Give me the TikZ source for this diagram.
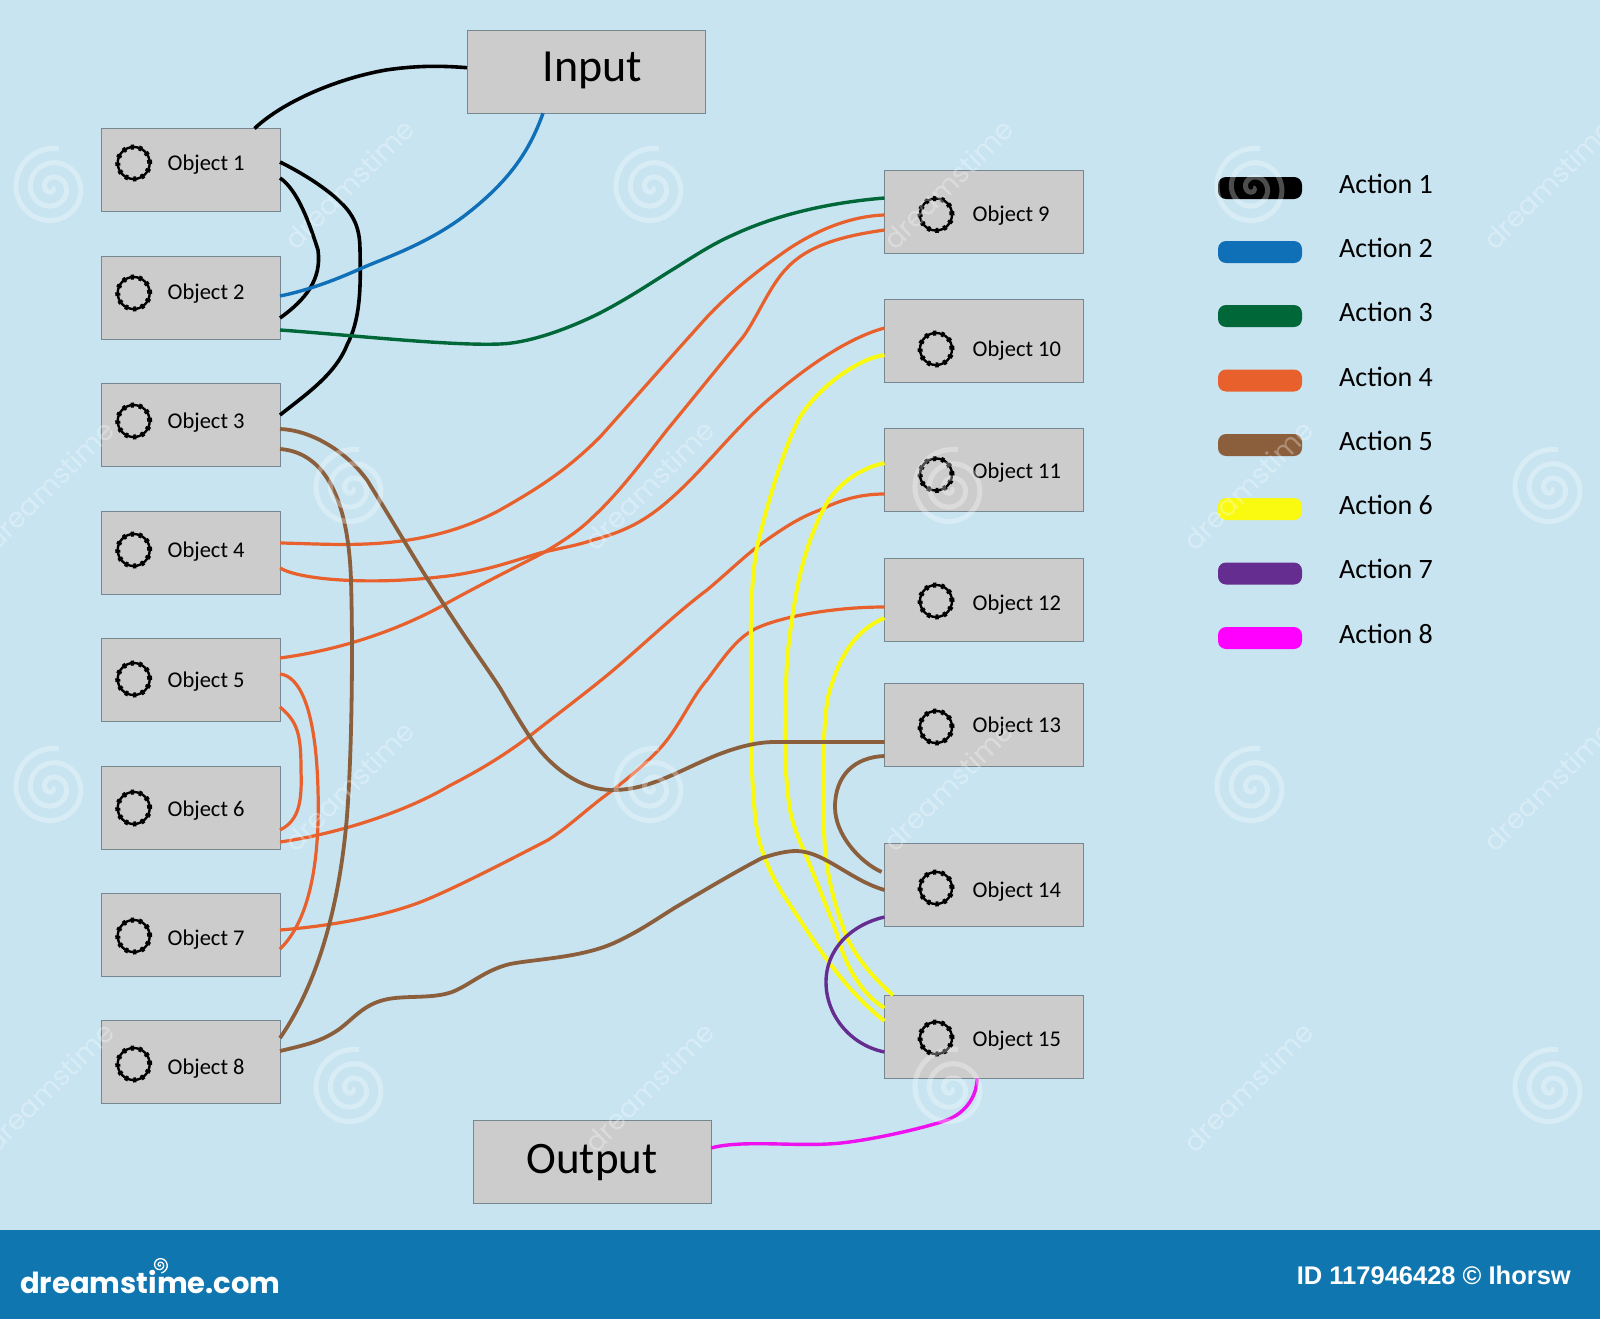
\documentclass[tikz,border=0pt]{standalone}
\usepackage{fontspec}
\setmainfont{Carlito}
\newfontfamily\footfont{Liberation Sans}
\newfontfamily\logofont{Poppins}
\usepackage{tikz}
\definecolor{skybg}{HTML}{C8E4F1}
\definecolor{footbg}{HTML}{0F76B0}
\definecolor{boxgrey}{HTML}{CCCCCC}
\definecolor{boxline}{HTML}{77878F}
\definecolor{actionblue}{HTML}{0F70B7}
\definecolor{actiongreen}{HTML}{006838}
\definecolor{actionorange}{HTML}{E8602C}
\definecolor{actionbrown}{HTML}{8B5E3C}
\definecolor{actionyellow}{HTML}{FAFA10}
\definecolor{actionpurple}{HTML}{662D91}
\definecolor{actionpink}{HTML}{EE10EE}
\definecolor{barpink}{HTML}{FF00FF}

\begin{document}
\begin{tikzpicture}[x=1pt,y=-1pt,
	objbox/.style={draw=boxline,fill=boxgrey,line width=1pt,inner sep=0pt,outer sep=0pt,minimum width=179pt,minimum height=83pt},
	rightbox/.style={objbox,minimum width=199pt},
	endbox/.style={objbox,minimum width=238pt},
	gearicon/.style={circle,draw=black,line width=2.4pt,inner sep=0pt,minimum size=32pt,postaction={draw,line width=5pt,dash pattern=on 3.2pt off 5.1pt}},
	objlabel/.style={anchor=west,inner sep=0pt,font=\fontsize{22.5}{23}\selectfont},
	inlabel/.style={inner sep=0pt,font=\fontsize{46}{46}\selectfont},
	outlabel/.style={inner sep=0pt,font=\fontsize{45}{45}\selectfont},
	actlabel/.style={anchor=west,inner sep=0pt,font=\fontsize{28}{29}\selectfont},
	legendbar/.style={rounded corners=8pt,inner sep=0pt,minimum width=84pt,minimum height=22pt},
	wire/.style={line width=3.4pt},
	wiredark/.style={wire,line width=3.6pt,draw=black},
	wireblue/.style={wire,draw=actionblue},
	wiregreen/.style={wire,draw=actiongreen},
	wireorange/.style={wire,line width=3.2pt,draw=actionorange},
	wirebrown/.style={wire,line width=3.8pt,draw=actionbrown},
	wireyellow/.style={wire,line width=4pt,draw=actionyellow},
	wirepurple/.style={wire,draw=actionpurple},
	wirepink/.style={wire,draw=actionpink},
	markspiral/.style={draw=white,opacity=0.3,line width=5pt},
	marktext/.style={text=white,opacity=0.3,rotate=45,font=\logofont\fontsize{27.5}{28}\selectfont}]
\useasboundingbox (0,0) rectangle (1600,1319);
\fill[skybg] (0,0) rectangle (1600,1319);
\fill[footbg] (0,1230) rectangle (1600,1319);

\node[objbox] (obj1) at (190.5,170) {};
\node[objbox] (obj2) at (190.5,297.5) {};
\node[objbox] (obj3) at (190.5,425) {};
\node[objbox] (obj4) at (190.5,552.5) {};
\node[objbox] (obj5) at (190.5,680) {};
\node[objbox] (obj6) at (190.5,807.5) {};
\node[objbox] (obj7) at (190.5,935) {};
\node[objbox] (obj8) at (190.5,1062) {};
\node[rightbox] (obj9) at (984,212) {};
\node[rightbox] (obj10) at (984,341) {};
\node[rightbox] (obj11) at (984,470) {};
\node[rightbox] (obj12) at (984,599.5) {};
\node[rightbox] (obj13) at (984,725) {};
\node[rightbox] (obj14) at (984,885) {};
\node[rightbox] (obj15) at (984,1036.7) {};
\node[endbox] (input) at (586,71.7) {};
\node[endbox] (output) at (592,1162) {};

\node[gearicon] (gear1) at (133.7,163) {};
\node[gearicon] (gear2) at (133.7,293) {};
\node[gearicon] (gear3) at (133.7,421) {};
\node[gearicon] (gear4) at (133.7,550) {};
\node[gearicon] (gear5) at (133.7,679) {};
\node[gearicon] (gear6) at (133.7,808) {};
\node[gearicon] (gear7) at (133.7,936) {};
\node[gearicon] (gear8) at (133.7,1064) {};
\node[gearicon] (gear9) at (936,214.5) {};
\node[gearicon] (gear10) at (936,349) {};
\node[gearicon] (gear11) at (936,474.5) {};
\node[gearicon] (gear12) at (936,601) {};
\node[gearicon] (gear13) at (936,727) {};
\node[gearicon] (gear14) at (936,888) {};
\node[gearicon] (gear15) at (936,1038) {};

\node[objlabel] (text1) at (167.5,164.5) {Object 1};
\node[objlabel] (text2) at (167.5,294) {Object 2};
\node[objlabel] (text3) at (167.5,422.5) {Object 3};
\node[objlabel] (text4) at (167.5,552) {Object 4};
\node[objlabel] (text5) at (167.5,681.5) {Object 5};
\node[objlabel] (text6) at (167.5,810.5) {Object 6};
\node[objlabel] (text7) at (167.5,940) {Object 7};
\node[objlabel] (text8) at (167.5,1068.5) {Object 8};
\node[objlabel] (text9) at (972.5,216) {Object 9};
\node[objlabel] (text10) at (972.5,350.5) {Object 10};
\node[objlabel] (text11) at (972.5,472.5) {Object 11};
\node[objlabel] (text12) at (972.5,604.5) {Object 12};
\node[objlabel] (text13) at (972.5,726.5) {Object 13};
\node[objlabel] (text14) at (972.5,891.5) {Object 14};
\node[objlabel] (text15) at (972.5,1040.5) {Object 15};
\node[inlabel] (inputtext) at (592.5,70) {Input};
\node[outlabel] (outputtext) at (592,1163) {Output};

\draw[wiredark] ([xshift=64pt]obj1.north) .. controls (285,100) and (340,78) .. (386,70) .. controls (420,65) and (445,66) .. ([yshift=4pt]input.west);
\draw[wiredark] ([yshift=8pt]obj1.east) .. controls (300,172) and (318,183) .. (335,197) .. controls (352,212) and (360,225) .. (360,250) .. controls (361,290) and (360,320) .. (347,345) .. controls (335,375) and (305,395) .. ([yshift=10pt]obj3.east);
\draw[wiredark] ([yshift=-8pt]obj1.east) .. controls (298,190) and (310,225) .. (318,250) .. controls (322,280) and (305,300) .. ([yshift=-20.5pt]obj2.east);
\draw[wireblue] ([xshift=-43pt]input.south) .. controls (530,150) and (510,180) .. (468,213) .. controls (430,243) and (385,258) .. (362,268) .. controls (340,278) and (310,290) .. ([yshift=1.5pt]obj2.east);
\draw[wiregreen] ([yshift=-32.5pt]obj2.east) .. controls (350,335) and (450,346) .. (500,344) .. controls (530,343) and (570,328) .. (600,313) .. controls (625,300) and (645,287) .. (667,273) .. controls (690,259) and (710,245) .. (733,235) .. controls (780,213) and (835,202) .. ([yshift=14pt]obj9.west);

\draw[wireorange] ([yshift=9.5pt]obj4.east) .. controls (340,544) and (420,553) .. (500,510) .. controls (535,490) and (565,472) .. (600,437) .. controls (635,398) and (670,358) .. (707,317) .. controls (735,287) and (770,262) .. (787,250) .. controls (815,231) and (850,216) .. ([yshift=-3pt]obj9.west);
\draw[wireorange] ([yshift=-15.5pt]obj4.east) .. controls (300,580) and (370,585) .. (439,577) .. controls (480,573) and (510,562) .. (540,553) .. controls (565,547) and (575,546) .. (593,540) .. controls (630,530) and (650,518) .. (677,493) .. controls (705,467) and (730,435) .. (760,407) .. controls (790,380) and (840,340) .. ([yshift=13pt]obj10.west);
\draw[wireorange] ([yshift=22pt]obj5.east) .. controls (340,650) and (400,630) .. (449,602) .. controls (480,585) and (510,570) .. (543,553) .. controls (565,540) and (580,530) .. (593,517) .. controls (620,492) and (645,458) .. (667,430) .. controls (690,402) and (720,365) .. (743,337) .. controls (757,318) and (770,285) .. (787,268) .. controls (810,243) and (850,235) .. ([yshift=-18pt]obj9.west);
\draw[wireorange] ([yshift=-34.5pt]obj6.east) .. controls (330,835) and (400,815) .. (449,786) .. controls (480,770) and (505,755) .. (531,735) .. controls (560,712) and (590,690) .. (617,667) .. controls (645,643) and (680,610) .. (707,590) .. controls (725,575) and (745,556) .. (757,547) .. controls (780,530) and (800,517) .. (820,510) .. controls (840,500) and (860,494) .. ([yshift=-24pt]obj11.west);
\draw[wireorange] ([yshift=5pt]obj7.east) .. controls (330,926) and (380,917) .. (418,903) .. controls (445,893) and (500,865) .. (548,840) .. controls (570,826) and (590,806) .. (613,790) .. controls (632,775) and (650,760) .. (663,745) .. controls (680,725) and (692,697) .. (707,680) .. controls (722,660) and (735,640) .. (753,630) .. controls (775,618) and (830,607) .. ([yshift=-7.5pt]obj12.west);
\draw[wireorange] ([yshift=6pt]obj5.east) .. controls (300,676) and (316,710) .. (318,790) .. controls (320,860) and (310,920) .. ([yshift=-14pt]obj7.east);
\draw[wireorange] ([yshift=-27pt]obj5.east) .. controls (298,722) and (301,735) .. (301,770) .. controls (302,800) and (300,820) .. ([yshift=-22.5pt]obj6.east);

\draw[wireyellow] ([yshift=-14pt]obj10.west) .. controls (860,358) and (820,385) .. (800,417) .. controls (785,445) and (768,500) .. (757,547) .. controls (752,575) and (750,610) .. (751,680) .. controls (751,720) and (751,760) .. (753,790) .. controls (755,820) and (757,835) .. (762,850) .. controls (772,880) and (785,897) .. (800,920) .. controls (820,950) and (845,990) .. ([yshift=15.7pt]obj15.west);
\draw[wireyellow] ([yshift=7pt]obj11.west) .. controls (860,468) and (835,485) .. (823,510) .. controls (808,540) and (800,570) .. (795,600) .. controls (790,630) and (786,660) .. (786,690) .. controls (785,720) and (783,765) .. (790,810) .. controls (793,825) and (798,838) .. (805,853) .. controls (820,890) and (832,920) .. (838,937) .. controls (845,965) and (862,995) .. ([yshift=28.7pt]obj15.west);
\draw[wireyellow] ([yshift=-18.5pt]obj12.west) .. controls (860,628) and (840,650) .. (828,697) .. controls (822,730) and (822,800) .. (825,850) .. controls (828,880) and (835,905) .. (843,927) .. controls (850,950) and (870,975) .. ([xshift=-91pt]obj15.north);

\draw[wirebrown] ([yshift=-4pt]obj3.east) .. controls (310,430) and (345,450) .. (367,480) .. controls (395,525) and (415,560) .. (439,597) .. controls (470,645) and (485,665) .. (500,688) .. controls (510,705) and (520,722) .. (530,737) .. controls (545,760) and (575,790) .. (613,790) .. controls (650,790) and (680,770) .. (717,755) .. controls (735,748) and (755,742) .. (775,742) -- ([yshift=-17pt]obj13.west);
\draw[wirebrown] ([yshift=-24pt]obj3.east) .. controls (320,452) and (348,490) .. (351,580) .. controls (353,650) and (352,750) .. (347,816) .. controls (340,900) and (320,980) .. ([yshift=24pt]obj8.east);
\draw[wirebrown] ([yshift=11pt]obj8.east) .. controls (305,1045) and (320,1042) .. (338,1030) .. controls (355,1018) and (365,1001) .. (395,998) .. controls (415,996) and (435,998) .. (452,992) .. controls (470,985) and (485,970) .. (510,964) .. controls (535,959) and (580,958) .. (614,943) .. controls (640,931) and (655,920) .. (676,907) .. controls (705,890) and (735,872) .. (762,858) .. controls (775,854) and (785,851) .. (797,851) .. controls (825,852) and (850,880) .. ([yshift=-5pt]obj14.west);
\draw[wirebrown] ([yshift=-31pt]obj13.west) .. controls (855,757) and (835,775) .. (835,807) .. controls (835,835) and (860,862) .. ([xshift=-3pt,yshift=13pt]obj14.west);
\draw[wirepurple] ([yshift=-32pt]obj14.west) .. controls (850,925) and (826,950) .. (826,982) .. controls (826,1015) and (850,1045) .. ([yshift=-15.3pt]obj15.west);
\draw[wirepink] ([yshift=14pt]output.east) .. controls (740,1140) and (790,1146) .. (827,1144) .. controls (860,1143) and (925,1128) .. (947,1120) .. controls (965,1113) and (977,1097) .. ([xshift=-7pt]obj15.south);

\node[legendbar,fill=black] (bar1) at (1260,188) {};
\node[legendbar,fill=actionblue] (bar2) at (1260,252) {};
\node[legendbar,fill=actiongreen] (bar3) at (1260,316) {};
\node[legendbar,fill=actionorange] (bar4) at (1260,380.5) {};
\node[legendbar,fill=actionbrown] (bar5) at (1260,445) {};
\node[legendbar,fill=actionyellow] (bar6) at (1260,509) {};
\node[legendbar,fill=actionpurple] (bar7) at (1260,573.5) {};
\node[legendbar,fill=barpink] (bar8) at (1260,638) {};
\node[actlabel] (act1) at (1339,184) {Action 1};
\node[actlabel] (act2) at (1339,248) {Action 2};
\node[actlabel] (act3) at (1339,312) {Action 3};
\node[actlabel] (act4) at (1339,376.5) {Action 4};
\node[actlabel] (act5) at (1339,441) {Action 5};
\node[actlabel] (act6) at (1339,505) {Action 6};
\node[actlabel] (act7) at (1339,569) {Action 7};
\node[actlabel] (act8) at (1339,634) {Action 8};

\foreach \mx/\my in {49/186,649/186,1250/186,349/487,948/487,1548/487,49/786,649/786,1250/786,349/1087,948/1087,1548/1087}
	\draw[markspiral] plot[domain=0:1000,samples=90,smooth] ({\mx+3+\x/25*cos(\x)},{\my+2+\x/25*sin(\x)});
\foreach \mx/\my [count=\k] in {349/184,948/184,1548/184,49/485,649/485,1248/485,349/786,948/786,1548/786,49/1087,649/1087,1248/1087}
	\node[marktext] (stamp\k) at (\mx,\my) {dreamstime};

\node[anchor=west,inner sep=0pt,text=white,font=\logofont\bfseries\fontsize{29}{29}\selectfont] (logo) at (20,1282) {dreamstime.com};
\draw[white,line width=1.3pt] plot[domain=0:800,samples=50,smooth] ({160+\x/100*cos(\x)},{1265+\x/100*sin(\x)});
\node[anchor=east,inner sep=0pt,text=white,font=\footfont\bfseries\fontsize{25.5}{26}\selectfont] (credit) at (1571,1275) {ID 117946428 © Ihorsw};
\end{tikzpicture}
\end{document}
